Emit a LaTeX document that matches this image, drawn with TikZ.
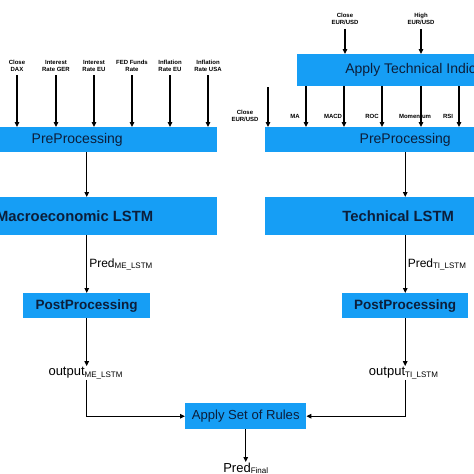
\documentclass[tikz,border=0pt]{standalone}
\usepackage{fontspec}
\setmainfont{Liberation Sans}
\usepackage{xcolor}
\usetikzlibrary{arrows.meta,positioning,calc}

\definecolor{boxblue}{RGB}{22,158,245}
\definecolor{boxtext}{RGB}{12,30,58}
\newcommand{\lowsub}[1]{\raisebox{-0.2ex}{\fontsize{8}{9}\selectfont #1}}

\begin{document}
\begin{tikzpicture}[
  x=1pt, y=-1pt,
  blk/.style={rectangle, fill=boxblue, draw=none, inner sep=0pt, anchor=north west, align=center, text=boxtext, font=\fontsize{14}{16}\selectfont},
  blkbold/.style={blk, font=\bfseries\fontsize{14.8}{17}\selectfont},
  post/.style={blk, font=\bfseries\fontsize{13.5}{15}\selectfont},
  inlbl/.style={font=\bfseries\fontsize{6}{7}\selectfont, align=center, inner sep=1pt},
  lbl/.style={font=\fontsize{12}{14}\selectfont, inner sep=2pt},
  outlbl/.style={font=\fontsize{13}{15}\selectfont, inner sep=1pt},
  arr/.style={-{Triangle[length=5pt,width=4.5pt]}, line width=1.1pt}
]

\useasboundingbox (0,0) rectangle (474,474);

\node[blk, minimum width=280pt, minimum height=25pt] (ppL) at (-63,127) {PreProcessing};

\node[blkbold, minimum width=285pt, minimum height=38pt] (lstmL) at (-68,197) {Macroeconomic LSTM};

\node[post, minimum width=127pt, minimum height=25pt] (postL) at (23,293) {PostProcessing};

\node[blk, minimum width=258pt, minimum height=32pt] (techA) at (297,54) {Apply Technical Indicators};

\node[blk, minimum width=280pt, minimum height=25pt] (ppR) at (265,127) {PreProcessing};

\node[blkbold, minimum width=266pt, minimum height=38pt] (lstmR) at (265,197) {Technical LSTM};

\node[post, minimum width=126pt, minimum height=25pt] (postR) at (342,293) {PostProcessing};

\node[blk, minimum width=121pt, minimum height=26pt, font=\fontsize{13.1}{15}\selectfont] (rules) at (185,403) {Apply Set of Rules};

\node[inlbl] (dax) at (17,65.5) {Close\\DAX};
\node[inlbl] (irger) at (56,65.5) {Interest\\Rate GER};
\node[inlbl] (ireu) at (94,65.5) {Interest\\Rate EU};
\node[inlbl] (fed) at (132,65.5) {FED Funds\\Rate};
\node[inlbl] (infeu) at (170,65.5) {Inflation\\Rate EU};
\node[inlbl] (infusa) at (208,65.5) {Inflation\\Rate USA};

\node[inlbl] (closeT) at (345,19) {Close\\EUR/USD};
\node[inlbl] (highT) at (421,19) {High\\EUR/USD};

\node[inlbl] (closeR) at (245,116) {Close\\EUR/USD};
\node[inlbl] (ma) at (295,116) {MA};
\node[inlbl] (macd) at (333,116) {MACD};
\node[inlbl] (roc) at (372,116) {ROC};
\node[inlbl] (mom) at (415,116) {Momentum};
\node[inlbl] (rsi) at (448,116) {RSI};

\coordinate (cEur) at (268,87);
\coordinate (tMA) at (306,86);
\coordinate (tMACD) at (344,86);
\coordinate (tROC) at (382,86);
\coordinate (tMOM) at (421,86);
\coordinate (tRSI) at (459,86);

\node[outlbl] (outL) at (85.5,373) {output\lowsub{ME\_LSTM}};
\node[outlbl] (outR) at (403.5,373) {output\lowsub{TI\_LSTM}};
\node[outlbl, anchor=north] (fin) at (rules.south |- 0,462) {Pred\lowsub{Final}};

\draw[arr, shorten <=3pt] (dax.south) -- (dax.south |- ppL.north);
\draw[arr, shorten <=3pt] (irger.south) -- (irger.south |- ppL.north);
\draw[arr, shorten <=3pt] (ireu.south) -- (ireu.south |- ppL.north);
\draw[arr, shorten <=3pt] (fed.south) -- (fed.south |- ppL.north);
\draw[arr, shorten <=3pt] (infeu.south) -- (infeu.south |- ppL.north);
\draw[arr, shorten <=3pt] (infusa.south) -- (infusa.south |- ppL.north);

\draw[arr, shorten <=3pt] (closeT.south) -- (closeT.south |- techA.north);
\draw[arr, shorten <=3pt] (highT.south) -- (highT.south |- techA.north);

\draw[arr] (cEur) -- (cEur |- ppR.north);
\draw[arr] (tMA) -- (tMA |- ppR.north);
\draw[arr] (tMACD) -- (tMACD |- ppR.north);
\draw[arr] (tROC) -- (tROC |- ppR.north);
\draw[arr] (tMOM) -- (tMOM |- ppR.north);
\draw[arr] (tRSI) -- (tRSI |- ppR.north);

\draw[arr] (postL.north |- ppL.south) -- (postL.north |- lstmL.north);
\draw[arr] (postL.north |- lstmL.south) -- node[lbl, right] {Pred\lowsub{ME\_LSTM}} (postL.north);
\draw[arr] (postL.south) -- (postL.south |- outL.north);
\draw[arr] (postL.south |- outL.south) |- (rules.west);

\draw[arr] (postR.north |- ppR.south) -- (postR.north |- lstmR.north);
\draw[arr] (postR.north |- lstmR.south) -- node[lbl, right] {Pred\lowsub{TI\_LSTM}} (postR.north);
\draw[arr] (postR.south) -- (postR.south |- outR.north);
\draw[arr] (postR.south |- outR.south) |- (rules.east);

\draw[arr] (rules.south) -- (fin.north);

\end{tikzpicture}
\end{document}
